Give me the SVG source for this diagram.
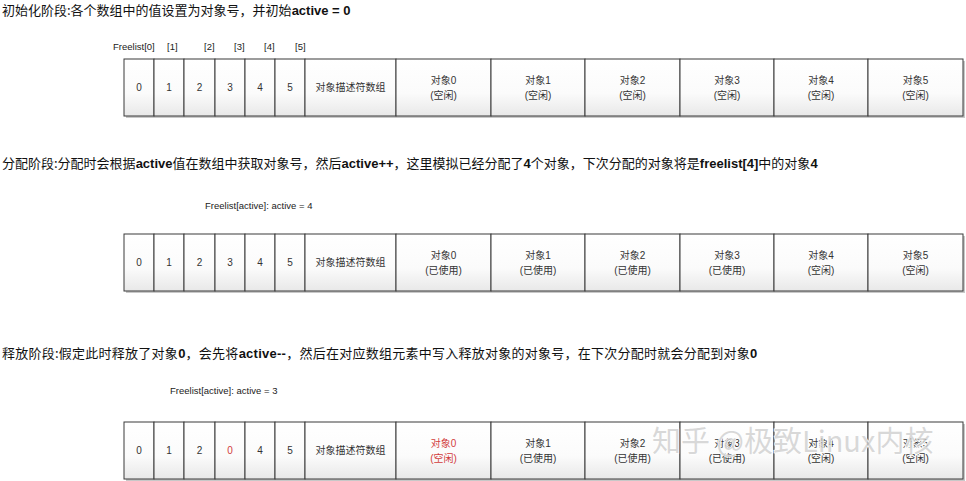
<svg xmlns="http://www.w3.org/2000/svg" width="966" height="481" viewBox="0 0 966 481">
<defs>
<linearGradient id="cg" x1="0" y1="0" x2="0" y2="1">
<stop offset="0" stop-color="#ffffff"/>
<stop offset="0.6" stop-color="#fbfbfb"/>
<stop offset="1" stop-color="#e8e8e8"/>
</linearGradient>
</defs>
<style>
.title{font-family:"Noto Sans CJK SC","Liberation Sans",sans-serif;font-size:13px;fill:#111}
.title .b{font-family:"Liberation Sans","Noto Sans CJK SC",sans-serif;font-weight:bold}
.lbl{font-family:"Liberation Sans","Noto Sans CJK SC",sans-serif;font-size:9.5px;fill:#222}
.cell{fill:url(#cg);stroke:#3a3a3a;stroke-width:1}
.shadow{fill:#c8c8c8}
.t{font-family:"Liberation Sans","Noto Sans CJK SC",sans-serif;font-size:10px;fill:#333;text-anchor:middle}
.red{fill:#d23c3c}
.wm{font-family:"Noto Sans CJK SC",sans-serif;font-size:29px;fill:#c8c8c8;fill-opacity:0.7;stroke:#ffffff;stroke-width:1.2;paint-order:stroke}
</style>
<rect width="966" height="481" fill="#ffffff"/>

<text class="title" x="2" y="15">初始化阶段:各个数组中的值设置为对象号，并初始<tspan class="b">active = 0</tspan></text>
<text class="lbl" x="113" y="50">Freelist[0]</text>
<text class="lbl" x="167" y="50">[1]</text>
<text class="lbl" x="204" y="50">[2]</text>
<text class="lbl" x="234" y="50">[3]</text>
<text class="lbl" x="264" y="50">[4]</text>
<text class="lbl" x="295" y="50">[5]</text>

<g id="row1">
<rect class="shadow" x="126" y="61" width="839" height="57"/>
<g id="r1c0"><rect class="cell" x="124" y="59" width="30" height="57"/><text class="t" x="139" y="91">0</text></g>
<g id="r1c1"><rect class="cell" x="154" y="59" width="30" height="57"/><text class="t" x="169" y="91">1</text></g>
<g id="r1c2"><rect class="cell" x="184" y="59" width="31" height="57"/><text class="t" x="199.5" y="91">2</text></g>
<g id="r1c3"><rect class="cell" x="215" y="59" width="30" height="57"/><text class="t" x="230" y="91">3</text></g>
<g id="r1c4"><rect class="cell" x="245" y="59" width="30" height="57"/><text class="t" x="260" y="91">4</text></g>
<g id="r1c5"><rect class="cell" x="275" y="59" width="30" height="57"/><text class="t" x="290" y="91">5</text></g>
<g id="r1desc"><rect class="cell" x="305" y="59" width="91" height="57"/><text class="t" x="350.5" y="91">对象描述符数组</text></g>
<g id="r1o0"><rect class="cell" x="396" y="59" width="95" height="57"/><text class="t" x="443.5" y="84">对象0</text><text class="t" x="443.5" y="99">(空闲)</text></g>
<g id="r1o1"><rect class="cell" x="491" y="59" width="94" height="57"/><text class="t" x="538" y="84">对象1</text><text class="t" x="538" y="99">(空闲)</text></g>
<g id="r1o2"><rect class="cell" x="585" y="59" width="95" height="57"/><text class="t" x="632.5" y="84">对象2</text><text class="t" x="632.5" y="99">(空闲)</text></g>
<g id="r1o3"><rect class="cell" x="680" y="59" width="94" height="57"/><text class="t" x="727" y="84">对象3</text><text class="t" x="727" y="99">(空闲)</text></g>
<g id="r1o4"><rect class="cell" x="774" y="59" width="94" height="57"/><text class="t" x="821" y="84">对象4</text><text class="t" x="821" y="99">(空闲)</text></g>
<g id="r1o5"><rect class="cell" x="868" y="59" width="95" height="57"/><text class="t" x="915.5" y="84">对象5</text><text class="t" x="915.5" y="99">(空闲)</text></g>
</g>

<text class="title" x="2" y="168">分配阶段:分配时会根据<tspan class="b">active</tspan>值在数组中获取对象号，然后<tspan class="b">active++</tspan>，这里模拟已经分配了<tspan class="b">4</tspan>个对象，下次分配的对象将是<tspan class="b">freelist[4]</tspan>中的对象<tspan class="b">4</tspan></text>
<text class="lbl" x="205" y="209">Freelist[active]: active = 4</text>

<g id="row2">
<rect class="shadow" x="126" y="236" width="839" height="57"/>
<g id="r2c0"><rect class="cell" x="124" y="234" width="30" height="57"/><text class="t" x="139" y="266">0</text></g>
<g id="r2c1"><rect class="cell" x="154" y="234" width="30" height="57"/><text class="t" x="169" y="266">1</text></g>
<g id="r2c2"><rect class="cell" x="184" y="234" width="31" height="57"/><text class="t" x="199.5" y="266">2</text></g>
<g id="r2c3"><rect class="cell" x="215" y="234" width="30" height="57"/><text class="t" x="230" y="266">3</text></g>
<g id="r2c4"><rect class="cell" x="245" y="234" width="30" height="57"/><text class="t" x="260" y="266">4</text></g>
<g id="r2c5"><rect class="cell" x="275" y="234" width="30" height="57"/><text class="t" x="290" y="266">5</text></g>
<g id="r2desc"><rect class="cell" x="305" y="234" width="91" height="57"/><text class="t" x="350.5" y="266">对象描述符数组</text></g>
<g id="r2o0"><rect class="cell" x="396" y="234" width="95" height="57"/><text class="t" x="443.5" y="259">对象0</text><text class="t" x="443.5" y="274">(已使用)</text></g>
<g id="r2o1"><rect class="cell" x="491" y="234" width="94" height="57"/><text class="t" x="538" y="259">对象1</text><text class="t" x="538" y="274">(已使用)</text></g>
<g id="r2o2"><rect class="cell" x="585" y="234" width="95" height="57"/><text class="t" x="632.5" y="259">对象2</text><text class="t" x="632.5" y="274">(已使用)</text></g>
<g id="r2o3"><rect class="cell" x="680" y="234" width="94" height="57"/><text class="t" x="727" y="259">对象3</text><text class="t" x="727" y="274">(已使用)</text></g>
<g id="r2o4"><rect class="cell" x="774" y="234" width="94" height="57"/><text class="t" x="821" y="259">对象4</text><text class="t" x="821" y="274">(空闲)</text></g>
<g id="r2o5"><rect class="cell" x="868" y="234" width="95" height="57"/><text class="t" x="915.5" y="259">对象5</text><text class="t" x="915.5" y="274">(空闲)</text></g>
</g>

<text class="title" x="2" y="358" letter-spacing="0.25">释放阶段:假定此时释放了对象<tspan class="b">0</tspan>，会先将<tspan class="b">active--</tspan>，然后在对应数组元素中写入释放对象的对象号，在下次分配时就会分配到对象<tspan class="b">0</tspan></text>
<text class="lbl" x="170" y="394">Freelist[active]: active = 3</text>

<g id="row3">
<rect class="shadow" x="126" y="424" width="839" height="57"/>
<g id="r3c0"><rect class="cell" x="124" y="422" width="30" height="57"/><text class="t" x="139" y="454">0</text></g>
<g id="r3c1"><rect class="cell" x="154" y="422" width="30" height="57"/><text class="t" x="169" y="454">1</text></g>
<g id="r3c2"><rect class="cell" x="184" y="422" width="31" height="57"/><text class="t" x="199.5" y="454">2</text></g>
<g id="r3c3"><rect class="cell" x="215" y="422" width="30" height="57"/><text class="t red" x="230" y="454">0</text></g>
<g id="r3c4"><rect class="cell" x="245" y="422" width="30" height="57"/><text class="t" x="260" y="454">4</text></g>
<g id="r3c5"><rect class="cell" x="275" y="422" width="30" height="57"/><text class="t" x="290" y="454">5</text></g>
<g id="r3desc"><rect class="cell" x="305" y="422" width="91" height="57"/><text class="t" x="350.5" y="454">对象描述符数组</text></g>
<g id="r3o0"><rect class="cell" x="396" y="422" width="95" height="57"/><text class="t red" x="443.5" y="447">对象0</text><text class="t red" x="443.5" y="462">(空闲)</text></g>
<g id="r3o1"><rect class="cell" x="491" y="422" width="94" height="57"/><text class="t" x="538" y="447">对象1</text><text class="t" x="538" y="462">(已使用)</text></g>
<g id="r3o2"><rect class="cell" x="585" y="422" width="95" height="57"/><text class="t" x="632.5" y="447">对象2</text><text class="t" x="632.5" y="462">(已使用)</text></g>
<g id="r3o3"><rect class="cell" x="680" y="422" width="94" height="57"/><text class="t" x="727" y="447">对象3</text><text class="t" x="727" y="462">(已使用)</text></g>
<g id="r3o4"><rect class="cell" x="774" y="422" width="94" height="57"/><text class="t" x="821" y="447">对象4</text><text class="t" x="821" y="462">(空闲)</text></g>
<g id="r3o5"><rect class="cell" x="868" y="422" width="95" height="57"/><text class="t" x="915.5" y="447">对象5</text><text class="t" x="915.5" y="462">(空闲)</text></g>
</g>

<g id="connectors"></g>

<text class="wm" x="652" y="452">知乎 @极致Linux内核</text>
</svg>
